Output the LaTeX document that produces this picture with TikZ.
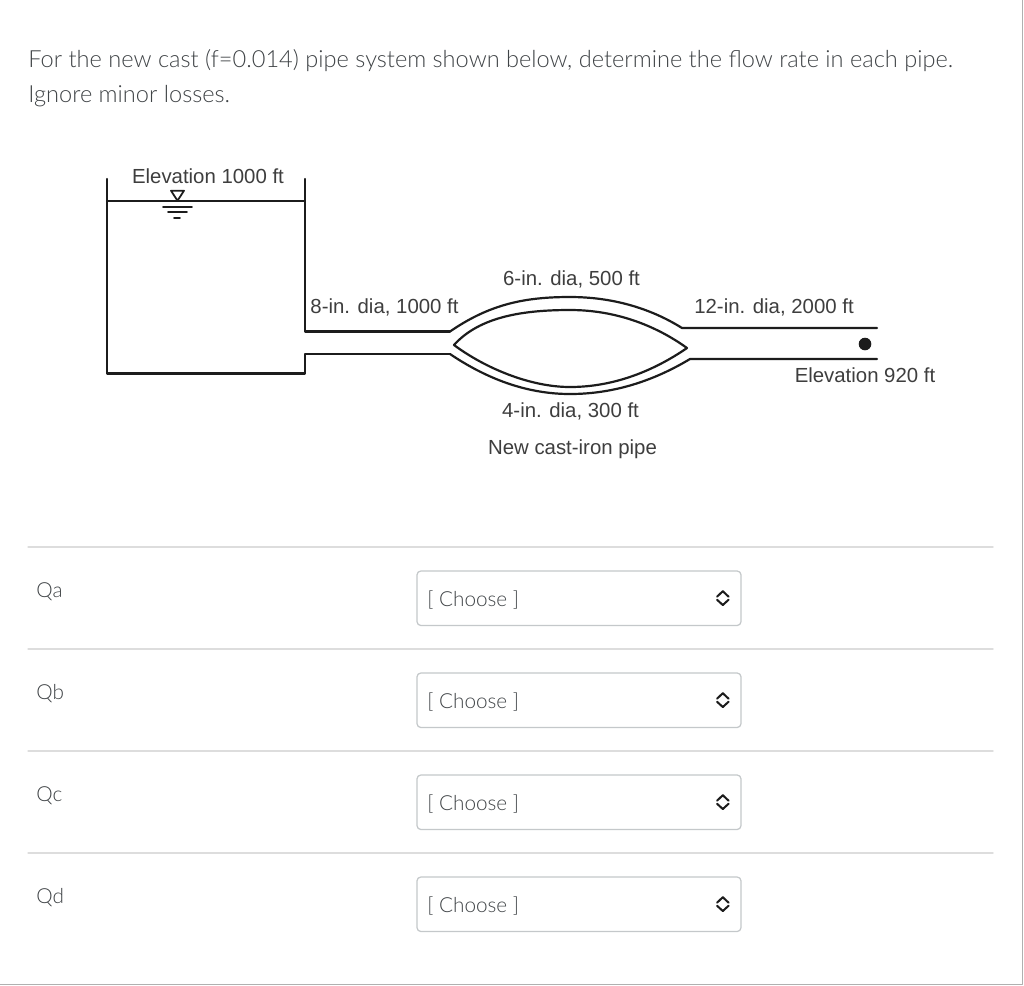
\documentclass[tikz,border=0pt]{standalone}
\usepackage{fontspec}
\setmainfont{Lato}[UprightFont=* Light]
\newfontfamily\figfont{Liberation Sans}
\definecolor{bodytxt}{HTML}{3F4346}
\definecolor{rowline}{HTML}{DDDDDD}
\definecolor{boxline}{HTML}{C4C8CA}
\definecolor{pagegray}{HTML}{B0B0B0}
\definecolor{pipeink}{HTML}{1C1C1C}
\tikzset{
	bodytext/.style={inner sep=0, anchor=base west, text=bodytxt, font=\fontsize{13.43}{16}\selectfont},
	figtext/.style={inner sep=0, text=pipeink!85!white, font=\figfont\fontsize{11.6}{13}\selectfont},
	pipe/.style={draw=pipeink, line width=1.25pt},
	thinpipe/.style={draw=pipeink, line width=1pt},
	rowrule/.style={draw=rowline, line width=0.75pt},
}
\begin{document}
\begin{tikzpicture}[x=0.02cm, y=-0.02cm, line cap=round, line join=round]
	\useasboundingbox (0,0) rectangle (1024,985);
	\fill[white] (0,0) rectangle (1024,985);
	\draw[pagegray, line width=0.8pt] (1022.6,0) -- (1022.6,984.2) -- (0,984.2);
	\node[bodytext] (question) at (28,67) {For the new cast (f=0.014) pipe system shown below, determine the flow rate in each pipe.};
	\node[bodytext] (ignore) at (28,102) {Ignore minor losses.};
	% reservoir
	\draw[pipe] (106.7,179) -- (106.7,373.5) -- (305,373.5) -- (305,354) -- (450,354);
	\draw[pipe] (305,179) -- (305,331.5) -- (450,331.5);
	\draw[thinpipe] (106.7,200.7) -- (305,200.7);
	\draw[thinpipe] (171,190.7) -- (184,190.7) -- (177.5,200.7) -- cycle;
	\draw[thinpipe] (163,206.7) -- (192,206.7);
	\draw[thinpipe] (168,212.3) -- (187,212.3);
	\draw[thinpipe] (174,218.3) -- (180,218.3);
	% branches
	\draw[pipe] (450,331.5) .. controls (490,304) and (525,297) .. (570,297) .. controls (612,297) and (650,308) .. (682,328) -- (877,328);
	\draw[pipe] (450,354) .. controls (490,381) and (530,394) .. (570,394) .. controls (615,394) and (655,380) .. (690,359) -- (877,359);
	\draw[pipe] (454,345) .. controls (480,316) and (525,310) .. (570,310) .. controls (615,310) and (655,325) .. (687,348) .. controls (655,370) and (615,387) .. (570,387) .. controls (530,387) and (485,368) .. (454,345) -- cycle;
	\fill[pipeink] (865,344) circle (6.3);
	\node[figtext] (elevA) at (208,176.5) {Elevation 1000 ft};
	\node[figtext] (pipeA) at (384.5,307) {8-in. dia, 1000 ft};
	\node[figtext] (pipeB) at (571.5,279) {6-in. dia, 500 ft};
	\node[figtext] (pipeC) at (570.5,411.5) {4-in. dia, 300 ft};
	\node[figtext] (pipeD) at (774,307) {12-in. dia, 2000 ft};
	\node[figtext] (elevB) at (865,375.5) {Elevation 920 ft};
	\node[figtext] (material) at (572.5,449) {New cast-iron pipe};
	% answer rows
	\foreach \rowy/\rowname in {0/a,102/b,204/c,306/d}{
		\draw[rowrule] (28,547+\rowy) -- (993,547+\rowy);
		\node[bodytext, font=\fontsize{11.8}{14}\selectfont] (label\rowname) at (36,597+\rowy) {Q\rowname};
		\draw[boxline, line width=0.7pt, rounded corners=2.2] (417,571+\rowy) rectangle (741,625.5+\rowy);
		\node[bodytext, font=\fontsize{11.8}{14}\selectfont] (choose\rowname) at (427,606.5+\rowy) {[ Choose ]};
		\draw[pipeink, line width=1.15pt] (717,596.7+\rowy) -- (722.8,591.2+\rowy) -- (728.6,596.7+\rowy);
		\draw[pipeink, line width=1.15pt] (717,599.7+\rowy) -- (722.8,605+\rowy) -- (728.6,599.7+\rowy);
	}
\end{tikzpicture}
\end{document}
